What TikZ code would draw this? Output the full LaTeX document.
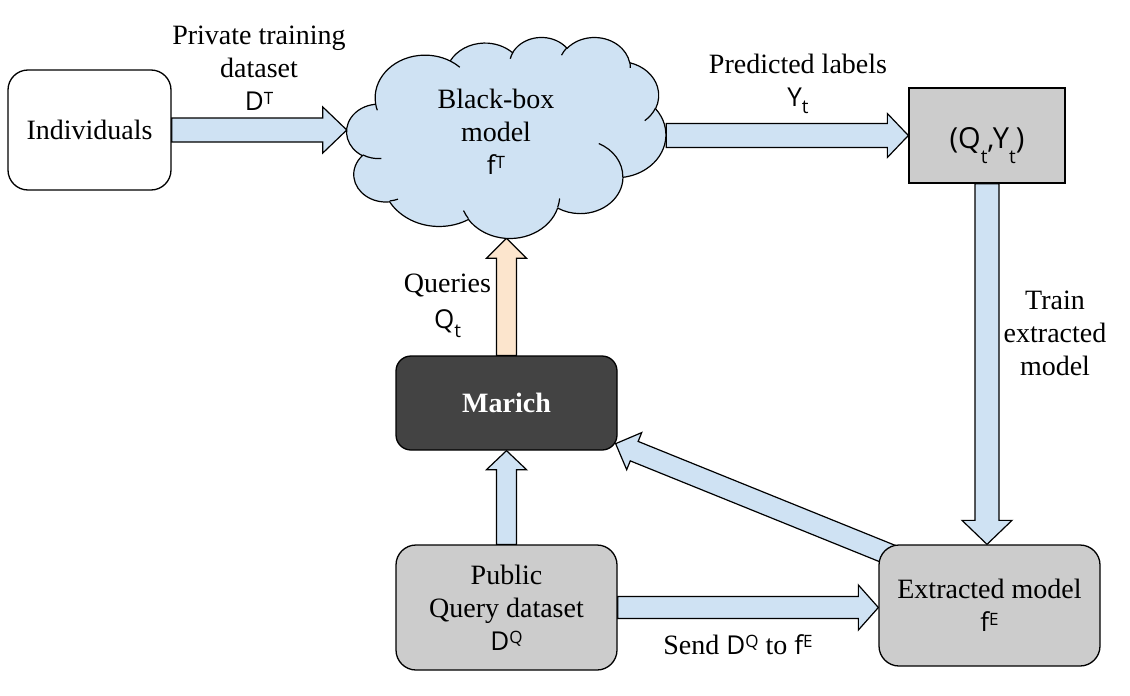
\documentclass[tikz,border=0pt]{standalone}
\usepackage{fontspec}
\setmainfont{Liberation Serif}
\newfontfamily\svfont{Open Sans}
\usetikzlibrary{calc}
\pgfdeclarelayer{background}
\pgfsetlayers{background,main}
\definecolor{lblue}{HTML}{CFE2F3}
\definecolor{peach}{HTML}{FCE5CD}
\definecolor{boxgray}{HTML}{CCCCCC}
\definecolor{darkbox}{HTML}{434343}
\newcommand\SV[2][26]{{\svfont\fontsize{#1}{#1}\selectfont #2}}
\newcommand\mysup[1]{\raisebox{6.5pt}{\fontsize{17}{17}\selectfont #1}}
\newcommand\mysub[2][9pt]{\raisebox{-#1}{\fontsize{19}{19}\selectfont #2}}
% fill, shaft half width, head half width, head length, from, to
\newcommand\fatarrow[6]{%
  \coordinate (fab) at ($(#6)!#4!(#5)$);
  \draw[arrowline, fill=#1] ($(#5)!#2!90:(#6)$) -- ($(fab)!#2!-90:(#5)$) -- ($(fab)!#3!-90:(#5)$) -- (#6) -- ($(fab)!#3!90:(#5)$) -- ($(fab)!#2!90:(#5)$) -- ($(#5)!#2!-90:(#6)$) -- cycle;}
\tikzset{
  box/.style={draw, line width=1.3pt, minimum width=221pt, inner sep=0pt, align=center, font=\fontsize{28}{33}\selectfont},
  rbox/.style={box, rounded corners=20pt},
  lbl/.style={inner sep=0pt, align=center, anchor=north, font=\fontsize{28}{33}\selectfont},
  arrowline/.style={draw=black, line width=1.2pt, line join=miter},
  cloudline/.style={draw=black, line width=1.2pt, line join=round},
}
\begin{document}
\begin{tikzpicture}[x=1pt, y=-1pt]
\useasboundingbox (0,0) rectangle (1130,696);
% boxes
\node[rbox, fill=white, minimum width=163pt, minimum height=120pt] (ind) at (89.5,130) {Individuals};
\node[box, fill=boxgray, minimum width=156pt, minimum height=95pt] (qy) at (987,135.5) {\SV[29]{\rule{0pt}{42pt}(Q\mysub[15pt]{t},Y\mysub[15pt]{t})}};
\node[rbox, fill=boxgray, minimum height=121pt] (ext) at (989.5,605.5) {Extracted model\\\SV{f\mysup{E}}};
\node[rbox, fill=boxgray, minimum height=125pt] (pub) at (506.5,607.5) {Public\\Query dataset\\\SV{D\mysup{Q}}};
\node[box, rounded corners=15pt, fill=darkbox, text=white, minimum height=94pt] (marich) at (506.5,403) {\textbf{Marich}};
\node[draw=none, minimum width=319pt, minimum height=201pt, inner sep=0pt] (cloud) at (506.5,137.5) {};
% cloud outline (OOXML cloud geometry)
\begin{scope}[shift={(cloud.north west)}, x=0.073843pt, y=-0.046528pt]
\draw[cloudline, fill=lblue] (390,1437)
  \foreach \w/\h/\s/\d [evaluate={\s as \ta using atan2(\w*sin(\s),\h*cos(\s))}, evaluate={\d as \dd using mod(atan2(\w*sin(\s+\d),\h*cos(\s+\d))-atan2(\w*sin(\s),\h*cos(\s))+720,360)}] in {
   675.3/919.0/-190.4875/123.7805,
   533.3/726.7/-144.1024/89.9452,
   436.5/594.5/-145.8079/99.7230,
   485.7/659.5/-130.9861/117.2417,
   533.3/727.3/-78.7089/109.0269,
   677.5/922.0/-46.2673/130.2690,
   578.5/786.7/0.6250/114.0333,
   675.2/921.5/22.4516/115.1726,
   772.0/1054.3/66.2426/75.7110,
   436.0/591.8/-274.9421/146.7356,
   434.5/594.5/-246.8285/152.5189}
  { arc[x radius=\w, y radius=\h, start angle=\ta, delta angle=\dd] } -- cycle;
\draw[cloudline]
  \foreach \px/\py/\w/\h/\s/\d [evaluate={\s as \ta using atan2(\w*sin(\s),\h*cos(\s))}, evaluate={\d as \dd using mod(atan2(\w*sin(\s+\d),\h*cos(\s+\d))-atan2(\w*sin(\s),\h*cos(\s))+720,360)}] in {
   469.3/2617.7/434.5/594.5/86.742/26.4295,
   692.8/3489.9/436.0/591.8/73.6105/11.4475,
   1647.8/3909.0/675.2/921.5/137.6242/14.0811,
   2882.7/3475.1/675.2/921.5/6.4533/15.9984,
   3412.9/2295.4/578.5/786.7/-70.2924/70.9174,
   4179.8/1535.4/533.3/727.3/30.318/27.7515,
   3832.4/542.6/485.7/659.5/-13.7443/14.8589,
   2907.8/395.2/485.7/659.5/-149.1815/18.1954,
   2214.1/472.0/436.5/594.5/-163.4943/17.6864,
   1400.0/519.2/675.3/919.0/-66.7070/12.3194,
   412.7/1578.9/675.3/919.0/157.6544/11.8582}
  { (\px,\py) arc[x radius=\w, y radius=\h, start angle=\ta, delta angle=\dd] };
\end{scope}
% labels
\node[lbl] (lpriv) at (259,26) {Private training\\dataset\\\SV{D\mysup{T}}};
\node[lbl] (lpred) at (798,54) {Predicted labels\\[0pt]\SV{Y\mysub[7pt]{t}}};
\node[lbl] (lcloud) at (496,89) {Black-box\\model\\\SV{f\mysup{T}}};
\node[lbl] (lq) at (447.5,274) {Queries\\[3pt]\SV{Q\mysub[9pt]{t}}};
\node[lbl] (ltrain) at (1055,291) {Train\\extracted\\model};
\node[lbl] (lsend) at (738,634) {Send \SV{D\mysup{Q}} to \SV{f\mysup{E}}};
% arrows
\begin{pgfonlayer}{background}
\coordinate (a1) at (ind.east -| cloud.west);
\coordinate (a2) at (qy.west -| cloud.east);
\coordinate (a3) at (qy.south |- ext.north);
\coordinate (a4) at (pub.east -| ext.west);
\coordinate (a5) at ($(ext.north west)+(16,12)$);
\coordinate (a6) at ($(marich.south east)+(-2,-7)$);
\fatarrow{lblue}{12pt}{23pt}{24pt}{ind.east}{a1}
\fatarrow{lblue}{12pt}{22pt}{21pt}{a2}{qy.west}
\fatarrow{lblue}{12pt}{25pt}{24pt}{qy.south}{a3}
\fatarrow{lblue}{11pt}{22.5pt}{20pt}{pub.east}{a4}
\fatarrow{lblue}{10pt}{20pt}{19pt}{pub.north}{marich.south}
\fatarrow{peach}{10pt}{20pt}{20pt}{marich.north}{cloud.south}
\fatarrow{lblue}{10.5pt}{20pt}{20pt}{a5}{a6}
\end{pgfonlayer}
\end{tikzpicture}
\end{document}
